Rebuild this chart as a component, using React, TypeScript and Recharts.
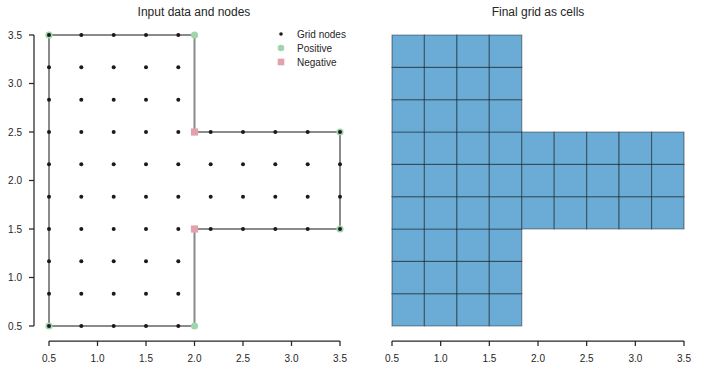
import { Legend, ReferenceArea, Scatter, ScatterChart, XAxis, YAxis } from "recharts";

// node coordinates
const leftX = [0.5, 0.833, 1.167, 1.5, 1.833];
const allY = [0.5, 0.833, 1.167, 1.5, 1.833, 2.167, 2.5, 2.833, 3.167, 3.5];
const rightX = [2.167, 2.5, 2.833, 3.167, 3.5];
const rightY = [1.5, 1.833, 2.167, 2.5];

const positiveX = [0.5, 2.0, 3.5, 3.5, 2.0, 0.5];
const positiveY = [3.5, 3.5, 2.5, 1.5, 0.5, 0.5];
const negativeX = [2.0, 2.0];
const negativeY = [2.5, 1.5];

const outlineX = [0.5, 0.5, 2.0, 2.0, 3.5, 3.5, 2.0, 2.0, 0.5];
const outlineY = [0.5, 3.5, 3.5, 2.5, 2.5, 1.5, 1.5, 0.5, 0.5];

const ticks = [0.5, 1.0, 1.5, 2.0, 2.5, 3.0, 3.5];
const legendOrder = ["Grid nodes", "Positive", "Negative"];

const zip = (xs: number[], ys: number[]) => xs.map((x, i) => ({ x, y: ys[i] }));

const gridNodes = [
  ...leftX.flatMap((x) => allY.map((y) => ({ x, y }))),
  ...rightX.flatMap((x) => rightY.map((y) => ({ x, y }))),
];
const positive = zip(positiveX, positiveY);
const negative = zip(negativeX, negativeY);
const outline = zip(outlineX, outlineY);

// cells span between neighbouring nodes
const cellsFrom = (xs: number[], ys: number[]) =>
  xs.slice(0, -1).flatMap((x1, i) =>
    ys.slice(0, -1).map((y1, j) => ({ x1, x2: xs[i + 1], y1, y2: ys[j + 1] }))
  );
const cells = [
  ...cellsFrom(leftX, allY),
  ...cellsFrom([leftX[leftX.length - 1], ...rightX], rightY),
];

const ink = "#262626";
const fmt = (v: number) => v.toFixed(1);
const tickStyle = { fill: ink, fontSize: 10 };
const lineStyle = { stroke: ink, strokeWidth: 1.25 };

const NodeDot = (p: any) => <circle cx={p.cx} cy={p.cy} r={2} fill="#1a1a1a" />;
const PosDot = (p: any) => <circle cx={p.cx} cy={p.cy} r={3.6} fill="#a0d5ad" />;
const NegSquare = (p: any) => (
  <rect x={p.cx - 3.6} y={p.cy - 3.6} width={7.2} height={7.2} fill="#e2a2aa" />
);
const Nothing = () => <g />;

const legendMarks: Record<string, JSX.Element> = {
  "Grid nodes": <circle cx={6} cy={6} r={1.8} fill="#1a1a1a" />,
  Positive: <circle cx={6} cy={6} r={3.3} fill="#a0d5ad" />,
  Negative: <rect x={2.7} y={2.7} width={6.6} height={6.6} fill="#e2a2aa" />,
};

const LegendBox = (props: any) => (
  <div style={{ fontSize: 10, color: ink }}>
    {(props.payload || [])
      .filter((e: any) => legendMarks[e.value])
      .sort((a: any, b: any) => legendOrder.indexOf(a.value) - legendOrder.indexOf(b.value))
      .map((e: any) => (
        <div key={e.value} style={{ display: "flex", alignItems: "center", height: 14 }}>
          <svg width={12} height={12} style={{ marginRight: 10 }}>
            {legendMarks[e.value]}
          </svg>
          <span>{e.value}</span>
        </div>
      ))}
  </div>
);

const titleStyle = (center: number) => ({
  position: "absolute" as const,
  left: center - 100,
  top: 4,
  width: 200,
  textAlign: "center" as const,
  fontSize: 12,
  lineHeight: "16px",
  color: ink,
});

export default function App() {
  return (
    <div
      style={{
        position: "absolute",
        left: 0,
        top: 0,
        width: 711,
        height: 370,
        background: "#fff",
        fontFamily: "'Liberation Sans', Arial, sans-serif",
      }}
    >
      <div style={titleStyle(194)}>Input data and nodes</div>
      <div style={titleStyle(538)}>Final grid as cells</div>

      <div style={{ position: "absolute", left: 0, top: 0 }}>
        <ScatterChart width={360} height={370} margin={{ top: 35, right: 20, bottom: 0, left: 0 }}>
          <XAxis
            type="number"
            dataKey="x"
            domain={[0.5, 3.5]}
            ticks={ticks}
            tickFormatter={fmt}
            padding={{ left: 15, right: 0 }}
            height={29}
            tickSize={5}
            tickMargin={9}
            axisLine={{ ...lineStyle, strokeDasharray: "0 15 291 1000" }}
            tickLine={lineStyle}
            tick={tickStyle}
          />
          <YAxis
            type="number"
            dataKey="y"
            domain={[0.5, 3.5]}
            ticks={ticks}
            tickFormatter={fmt}
            padding={{ top: 0, bottom: 15 }}
            width={34}
            tickSize={5}
            tickMargin={7}
            axisLine={{ ...lineStyle, strokeDasharray: "291 1000" }}
            tickLine={lineStyle}
            tick={tickStyle}
          />
          <Scatter
            name="outline"
            data={outline}
            line={{ stroke: "#8a8a8a", strokeWidth: 2 }}
            shape={Nothing}
            legendType="none"
            isAnimationActive={false}
          />
          <Scatter name="Positive" data={positive} shape={PosDot} isAnimationActive={false} />
          <Scatter name="Negative" data={negative} shape={NegSquare} isAnimationActive={false} />
          <Scatter name="Grid nodes" data={gridNodes} shape={NodeDot} isAnimationActive={false} />
          <Legend
            layout="vertical"
            align="center"
            verticalAlign="middle"
            content={LegendBox}
            wrapperStyle={{ position: "absolute", left: 275, top: 27, width: 90 }}
          />
        </ScatterChart>
      </div>

      <div style={{ position: "absolute", left: 360, top: 0 }}>
        <ScatterChart width={351} height={370} margin={{ top: 35, right: 27, bottom: 0, left: 32 }}>
          <XAxis
            type="number"
            dataKey="x"
            domain={[0.5, 3.5]}
            ticks={ticks}
            tickFormatter={fmt}
            height={29}
            tickSize={5}
            tickMargin={9}
            axisLine={lineStyle}
            tickLine={lineStyle}
            tick={tickStyle}
          />
          <YAxis type="number" dataKey="y" domain={[0.5, 3.5]} padding={{ top: 0, bottom: 15 }} hide />
          {cells.map((c, i) => (
            <ReferenceArea
              key={i}
              x1={c.x1}
              x2={c.x2}
              y1={c.y1}
              y2={c.y2}
              fill="#6aacd5"
              fillOpacity={1}
              stroke="#000"
              strokeOpacity={0.4}
              strokeWidth={1.2}
            />
          ))}
          <Scatter data={gridNodes} shape={Nothing} isAnimationActive={false} />
        </ScatterChart>
      </div>
    </div>
  );
}
